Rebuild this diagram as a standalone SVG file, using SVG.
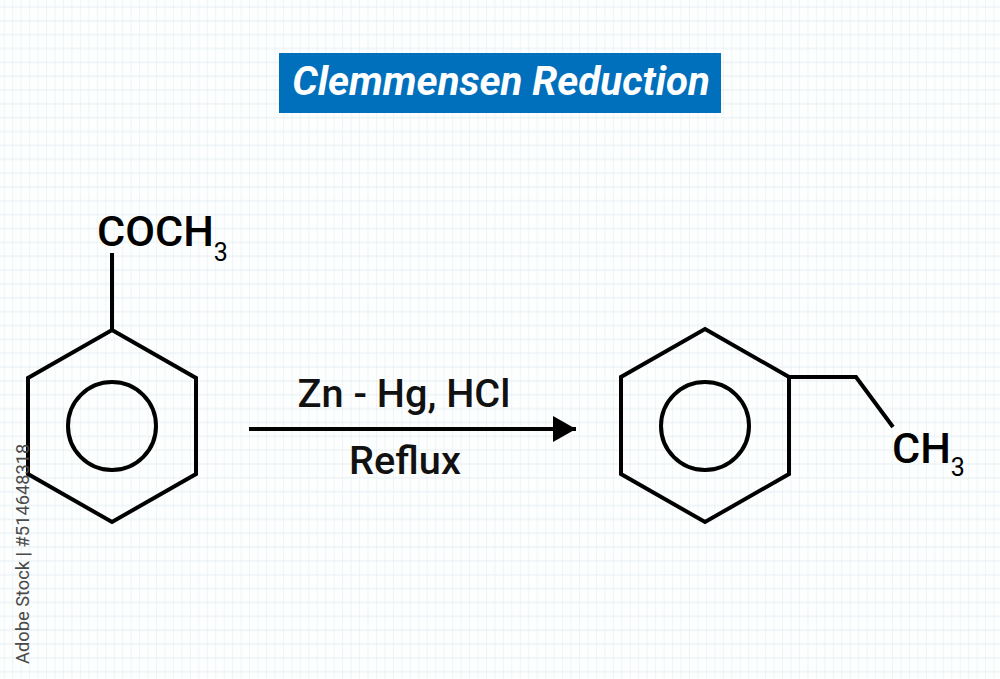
<svg xmlns="http://www.w3.org/2000/svg" width="1000" height="679" viewBox="0 0 1000 679">
<style>
.bond{fill:none;stroke:#000;stroke-width:4;stroke-linejoin:miter}
.t{font-family:Roboto,"Liberation Sans",sans-serif;fill:#000}
.chem{font-size:43.200px;font-weight:500}
.sub{font-size:25px;font-weight:400}
.cond{font-size:39.700px;font-weight:500;text-anchor:middle;fill:#111}
</style>
<defs>
<pattern id="grid" width="8.46" height="13.85" patternUnits="userSpaceOnUse">
<path d="M4.23 0V13.85" fill="none" stroke="#eef4f7" stroke-width="1"/>
<path d="M0 6.925H8.46" fill="none" stroke="#e6edf1" stroke-width="1"/>
</pattern>
<marker id="head" markerUnits="userSpaceOnUse" markerWidth="24" markerHeight="26" refX="23" refY="13" orient="auto">
<path d="M0 0L23 13L0 26Z" fill="#000"/>
</marker>
</defs>
<rect id="background" width="1000" height="679" fill="#fdfefe"/>
<rect x="-4.23" y="-6.925" width="1010" height="690" fill="url(#grid)" patternTransform="translate(-4.23 -6.925)"/>
<g id="title">
<rect x="279" y="53" width="442" height="60" fill="#0070bd"/>
<text x="501" y="95" font-family="Roboto,'Liberation Sans',sans-serif" font-size="40.200" font-weight="700" font-style="italic" fill="#fff" text-anchor="middle">Clemmensen Reduction</text>
</g>
<g id="connectors">
<path id="reaction-arrow" d="M249 429H576" fill="none" stroke="#000" stroke-width="4" marker-end="url(#head)"/>
</g>
<g id="acetophenone">
<path class="bond" d="M112 330L196 378V474L112 522L28 474V378ZM112 330V253"/>
<circle class="bond" cx="112" cy="426" r="44"/>
<text class="t chem" x="97" y="246">COCH<tspan class="sub" dy="15">3</tspan></text>
</g>
<g id="conditions">
<text class="t cond" x="404" y="407">Zn - Hg, HCl</text>
<text class="t cond" x="405" y="474">Reflux</text>
</g>
<g id="ethylbenzene">
<path class="bond" d="M705 329L789 377V474L705 522L621 474V377ZM789 377H856L893 427"/>
<circle class="bond" cx="705" cy="426" r="44"/>
<text class="t chem" x="892" y="463">CH<tspan class="sub" dy="13">3</tspan></text>
</g>
<text id="stock-credit" transform="translate(29 664) rotate(-90)" font-family="Roboto,'Liberation Sans',sans-serif" font-size="18.300" fill="#4a4a4a">Adobe Stock | #514648318</text>
</svg>
